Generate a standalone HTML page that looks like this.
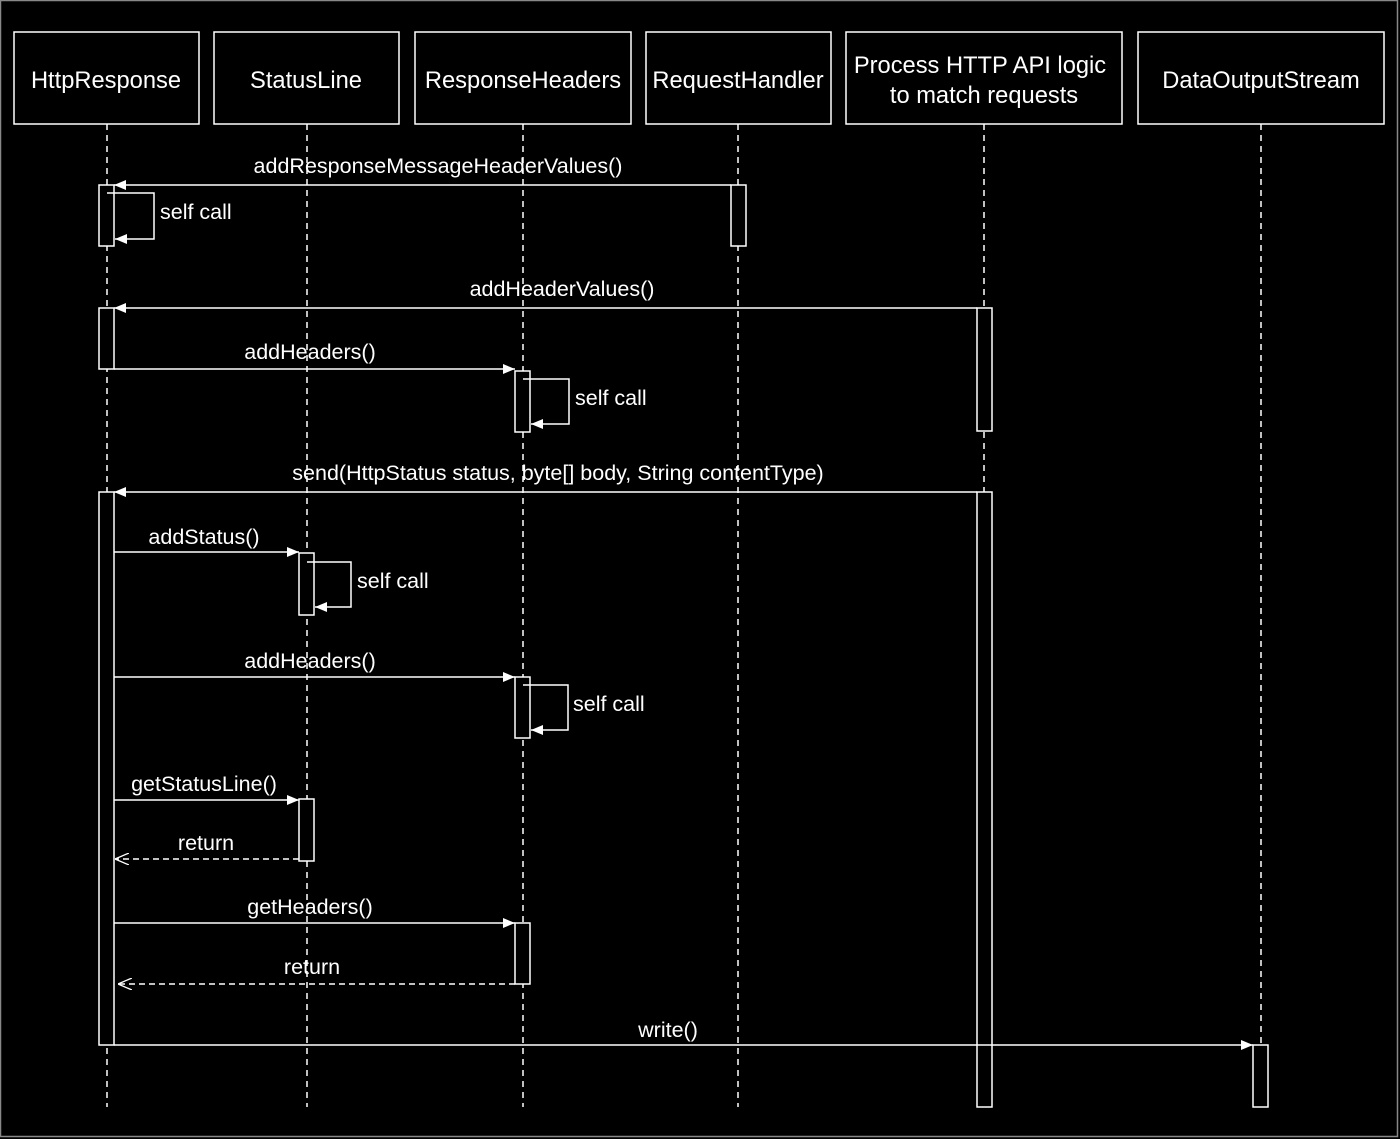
<!DOCTYPE html>
<html><head><meta charset="utf-8"><style>
html,body{margin:0;padding:0;background:#000;}
svg{display:block;}
text{font-family:"Liberation Sans","DejaVu Sans",sans-serif;fill:#fff;}
</style></head><body>
<svg width="1400" height="1139" viewBox="0 0 1400 1139" xmlns="http://www.w3.org/2000/svg">
<defs>
<marker id="a" markerWidth="12" markerHeight="10" refX="12" refY="5" orient="auto" markerUnits="userSpaceOnUse"><path d="M0,0 L12,5 L0,10 z" fill="#fff"/></marker>
<marker id="o" markerWidth="14" markerHeight="12" refX="14" refY="6" orient="auto" markerUnits="userSpaceOnUse"><path d="M0,0 L14,6 L0,12" fill="none" stroke="#fff" stroke-width="1.3"/></marker>
</defs>
<rect x="0" y="0" width="1400" height="1139" fill="#000"/>
<rect x="0.5" y="0.5" width="1397" height="1136" fill="none" stroke="#888" stroke-width="1.5"/>
<g fill="#000" stroke="#fff" stroke-width="1.5">
<rect x="14" y="32" width="185" height="92"/>
<rect x="214" y="32" width="185" height="92"/>
<rect x="415" y="32" width="216" height="92"/>
<rect x="646" y="32" width="185" height="92"/>
<rect x="846" y="32" width="276" height="92"/>
<rect x="1138" y="32" width="246" height="92"/>
</g>
<g font-size="23.7" text-anchor="middle">
<text x="106" y="88">HttpResponse</text>
<text x="306" y="88">StatusLine</text>
<text x="523" y="88">ResponseHeaders</text>
<text x="738" y="88">RequestHandler</text>
<text x="980" y="73">Process HTTP API logic</text>
<text x="984" y="103">to match requests</text>
<text x="1261" y="88">DataOutputStream</text>
</g>
<g stroke="#fff" stroke-width="1.5" stroke-dasharray="6,5">
<line x1="107" y1="124" x2="107" y2="1107"/>
<line x1="307" y1="124" x2="307" y2="1107"/>
<line x1="523" y1="124" x2="523" y2="1107"/>
<line x1="738" y1="124" x2="738" y2="1107"/>
<line x1="984" y1="124" x2="984" y2="1107"/>
<line x1="1261" y1="124" x2="1261" y2="1107"/>
</g>
<g fill="#000" stroke="#fff" stroke-width="1.5">
<rect x="99" y="185" width="15" height="61"/>
<rect x="99" y="308" width="15" height="61"/>
<rect x="99" y="492" width="15" height="553"/>
<rect x="731" y="185" width="15" height="61"/>
<rect x="977" y="308" width="15" height="123"/>
<rect x="977" y="492" width="15" height="615"/>
<rect x="515" y="371" width="15" height="61"/>
<rect x="515" y="677" width="15" height="61"/>
<rect x="515" y="923" width="15" height="61"/>
<rect x="299" y="553" width="15" height="62"/>
<rect x="299" y="799" width="15" height="62"/>
<rect x="1253" y="1045" width="15" height="62"/>
</g>
<g stroke="#fff" stroke-width="1.5" fill="none">
<line x1="731" y1="185" x2="114" y2="185" marker-end="url(#a)"/>
<polyline points="107,193 154,193 154,239 115,239" marker-end="url(#a)"/>
<line x1="977" y1="308" x2="114" y2="308" marker-end="url(#a)"/>
<line x1="114" y1="369" x2="515" y2="369" marker-end="url(#a)"/>
<polyline points="523,379 569,379 569,424 531,424" marker-end="url(#a)"/>
<line x1="977" y1="492" x2="114" y2="492" marker-end="url(#a)"/>
<line x1="114" y1="552" x2="299" y2="552" marker-end="url(#a)"/>
<polyline points="307,562 351,562 351,607 315,607" marker-end="url(#a)"/>
<line x1="114" y1="677" x2="515" y2="677" marker-end="url(#a)"/>
<polyline points="523,685 568,685 568,730 531,730" marker-end="url(#a)"/>
<line x1="114" y1="800" x2="299" y2="800" marker-end="url(#a)"/>
<line x1="299" y1="859" x2="115" y2="859" stroke-dasharray="6,4" marker-end="url(#o)"/>
<line x1="114" y1="923" x2="515" y2="923" marker-end="url(#a)"/>
<line x1="515" y1="984" x2="118" y2="984" stroke-dasharray="6,4" marker-end="url(#o)"/>
<line x1="114" y1="1045" x2="1253" y2="1045" marker-end="url(#a)"/>
</g>
<g font-size="21.5">
<text x="438" y="173" text-anchor="middle">addResponseMessageHeaderValues()</text>
<text x="160" y="219">self call</text>
<text x="562" y="296" text-anchor="middle">addHeaderValues()</text>
<text x="310" y="359" text-anchor="middle">addHeaders()</text>
<text x="575" y="405">self call</text>
<text x="558" y="480" text-anchor="middle">send(HttpStatus status, byte[] body, String contentType)</text>
<text x="204" y="544" text-anchor="middle">addStatus()</text>
<text x="357" y="588">self call</text>
<text x="310" y="668" text-anchor="middle">addHeaders()</text>
<text x="573" y="711">self call</text>
<text x="204" y="791" text-anchor="middle">getStatusLine()</text>
<text x="206" y="850" text-anchor="middle">return</text>
<text x="310" y="914" text-anchor="middle">getHeaders()</text>
<text x="312" y="974" text-anchor="middle">return</text>
<text x="668" y="1037" text-anchor="middle">write()</text>
</g>
</svg>
</body></html>
